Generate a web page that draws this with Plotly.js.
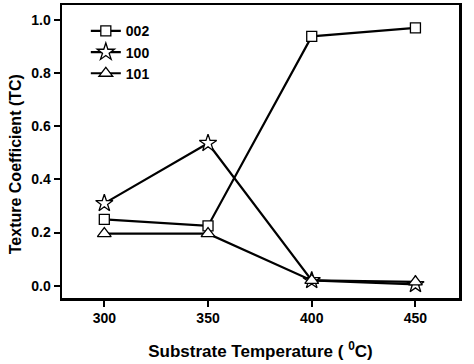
<!DOCTYPE html>
<html>
<head>
<meta charset="utf-8">
<script src="https://cdn.plot.ly/plotly-3.0.1.min.js"></script>
<style>html,body{margin:0;padding:0;background:#fff;}#chart{width:474px;height:364px;}</style>
</head>
<body>
<div id="chart"></div>
<script>
var temperatures = [300, 350, 400, 450];
var tc002 = [0.25, 0.225, 0.938, 0.97];
var tc100 = [0.31, 0.536, 0.02, 0.005];
var tc101 = [0.196, 0.196, 0.02, 0.015];
var seriesNames = ['002', '100', '101'];
var tickVals = [300, 350, 400, 450];

function mk(y, name, sym, size) {
  return {
    x: temperatures, y: y, name: name, type: 'scatter', mode: 'lines+markers',
    line: {color: '#000', width: 2.2},
    marker: {symbol: sym, size: size, color: '#fff', line: {color: '#000', width: 1.3}}
  };
}
var traces = [
  mk(tc002, seriesNames[0], 'square', 10),
  mk(tc100, seriesNames[1], 'star', 13),
  mk(tc101, seriesNames[2], 'triangle-up', 12)
];

var fam = 'Liberation Sans, Arial, sans-serif';
var layout = {
  width: 474, height: 364,
  margin: {l: 62, r: 15, t: 5, b: 66},
  paper_bgcolor: '#fff', plot_bgcolor: '#fff',
  showlegend: true,
  legend: {x: 0.06, y: 0.965, xanchor: 'left', yanchor: 'top', bgcolor: 'rgba(0,0,0,0)',
           font: {family: fam, size: 14, color: '#000', weight: 'bold'}, tracegroupgap: 0},
  xaxis: {
    range: [279.6, 471], tickvals: tickVals, ticktext: tickVals.map(String),
    ticks: 'outside', ticklen: 6, tickwidth: 2, tickcolor: '#000',
    showline: true, linecolor: '#000', linewidth: 2.5, mirror: true,
    showgrid: false, zeroline: false,
    tickfont: {family: fam, size: 14, color: '#000', weight: 'bold'},
    title: {text: 'Substrate Temperature ( <sup>0</sup>C)', standoff: 20,
            font: {family: fam, size: 17, color: '#000', weight: 'bold'}}
  },
  yaxis: {
    range: [-0.046, 1.056], tickvals: [0, 0.2, 0.4, 0.6, 0.8, 1.0],
    ticktext: ['0.0', '0.2', '0.4', '0.6', '0.8', '1.0'],
    ticks: 'outside', ticklen: 6, tickwidth: 2, tickcolor: '#000',
    showline: true, linecolor: '#000', linewidth: 2.5, mirror: true,
    showgrid: false, zeroline: false,
    tickfont: {family: fam, size: 14, color: '#000', weight: 'bold'}
  },
  annotations: [{
    text: 'Texture Coefficient (TC)', textangle: -90, showarrow: false,
    xref: 'paper', yref: 'paper', x: -0.118, y: 0.457, xanchor: 'center', yanchor: 'middle',
    font: {family: fam, size: 16, color: '#000', weight: 'bold'}
  }]
};
Plotly.newPlot('chart', traces, layout, {staticPlot: true});
</script>
</body>
</html>
